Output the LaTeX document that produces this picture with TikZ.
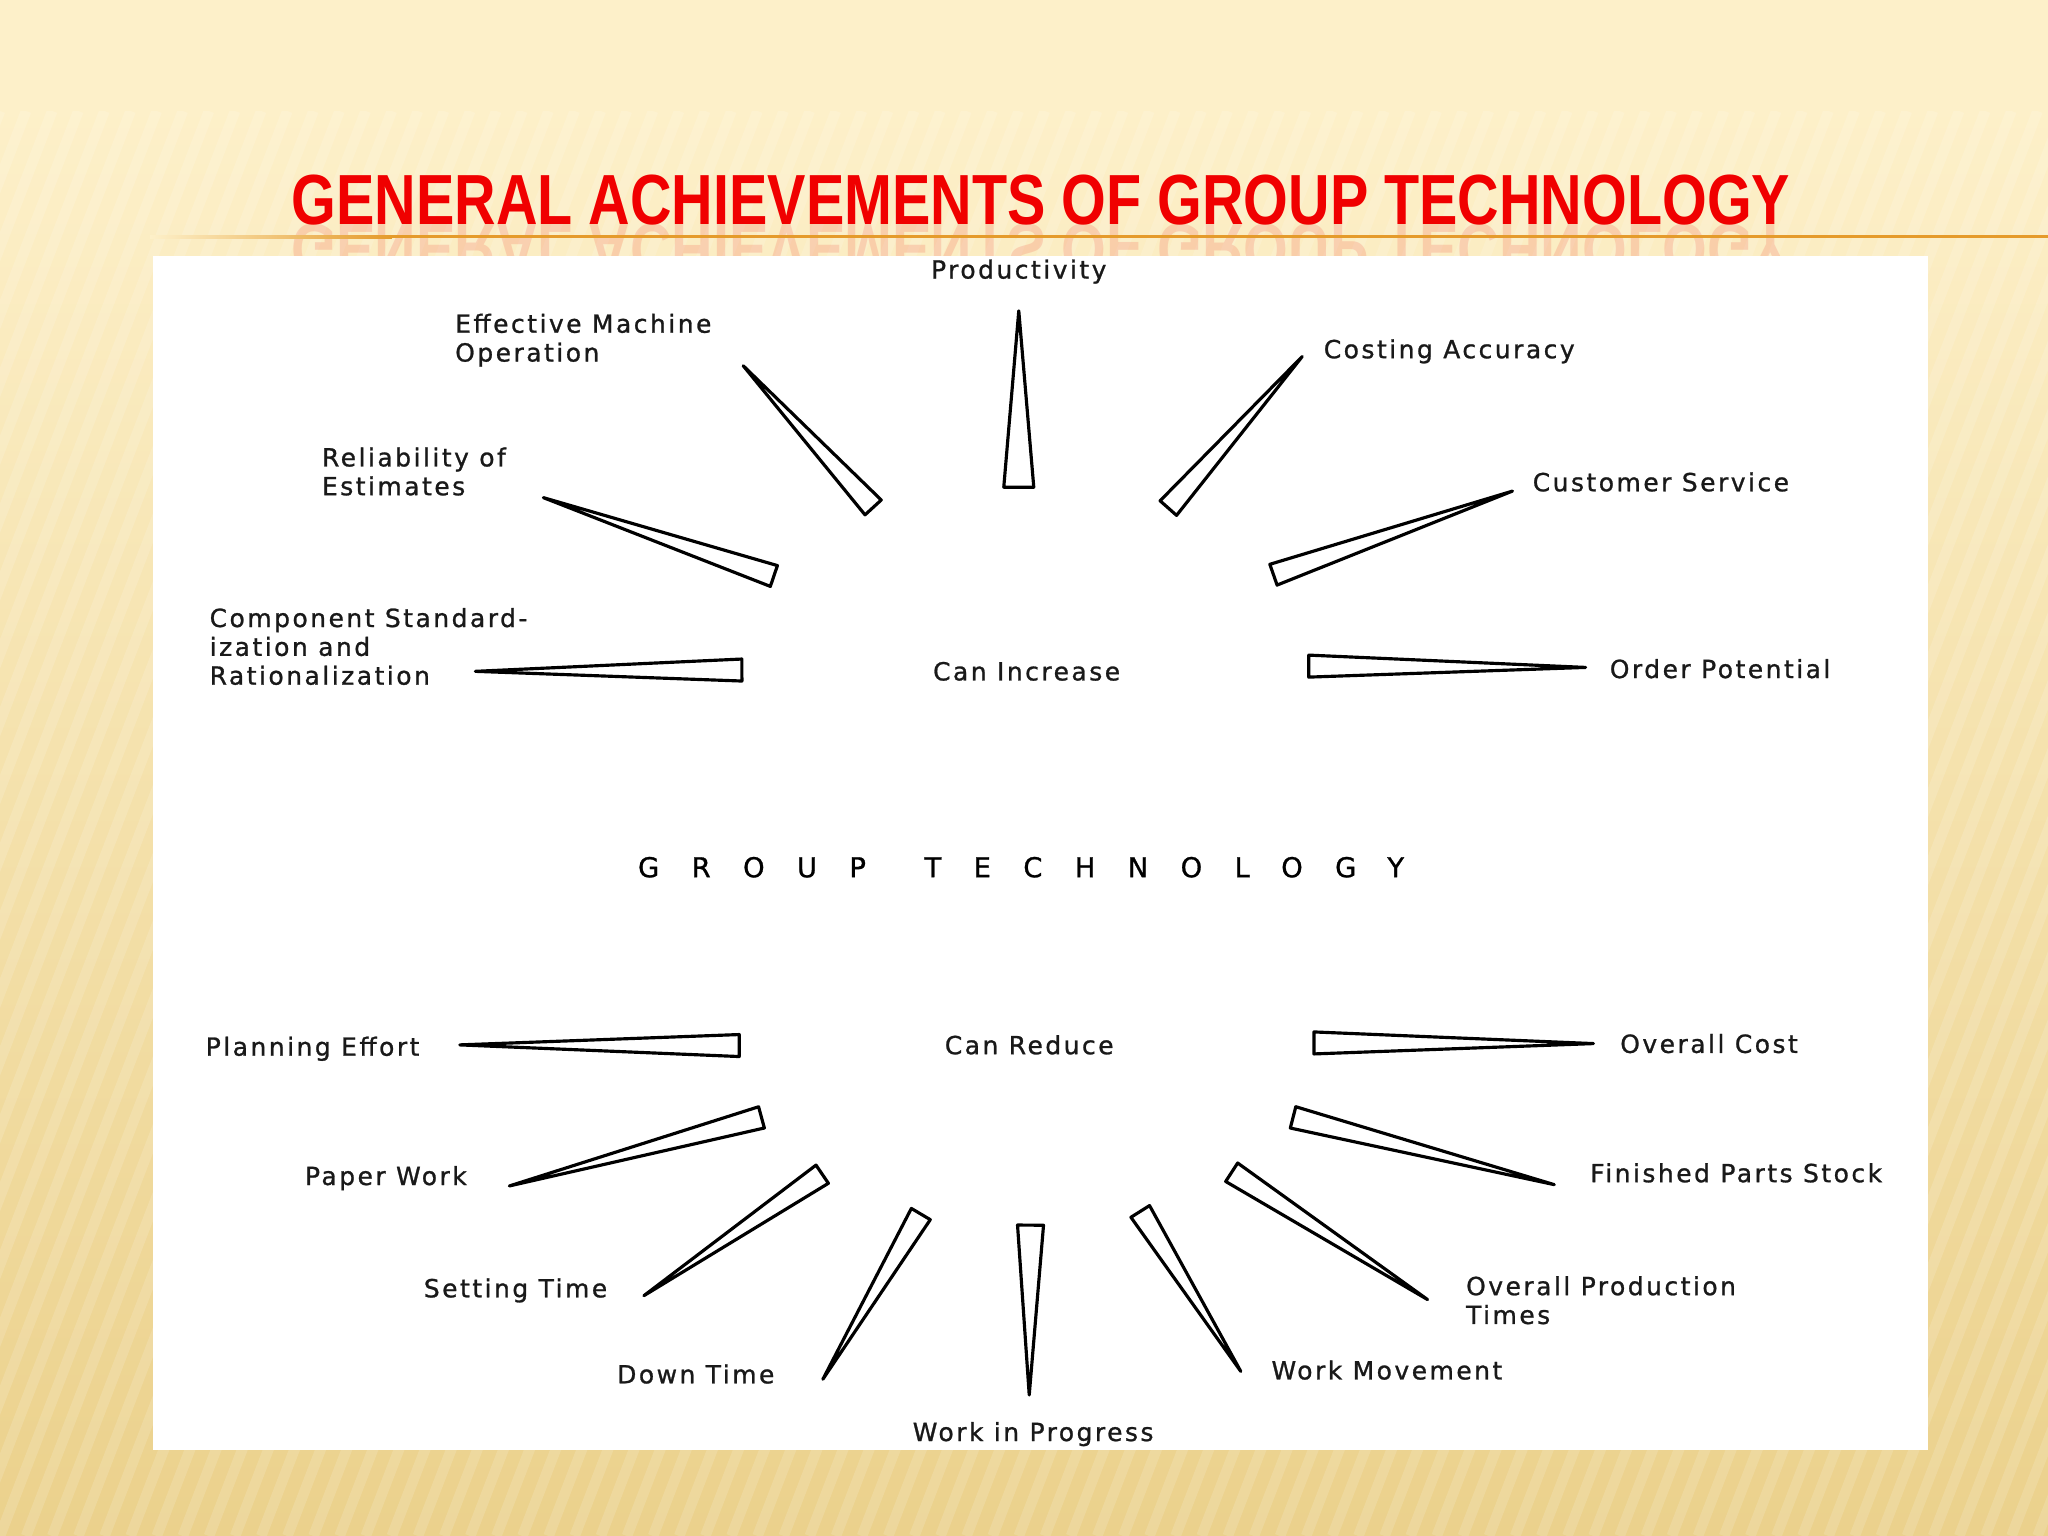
\documentclass[tikz,border=0pt]{standalone}
\usepackage{fontspec}
\usepackage{tikz}
\usetikzlibrary{calc,
                positioning}
\newfontfamily\titlefont{Liberation Sans}[FakeStretch=0.81]
\newfontfamily\lblfont{DejaVu Sans}[LetterSpace=10, FakeBold=1]
\newfontfamily\gtfont{DejaVu Sans}[LetterSpace=118, FakeBold=1]
\definecolor{bgcream}{HTML}{FDF0C9}
\definecolor{bggold}{HTML}{EBD18C}
\definecolor{rulecol}{HTML}{E59B2B}
\definecolor{titlered}{HTML}{F00000}
\tikzset{
        lbl/.style={font=\lblfont\fontsize{7.1}{8.2}\selectfont, inner sep=0pt,
                    align=left, text=black!90},
        lblw/.style={lbl, anchor=west},
        spike/.style={draw=black, fill=white, line width=0.9pt, line join=round},
        headline/.style={text=titlered, anchor=base,
                         font=\titlefont\bfseries\fontsize{20.2}{24}\selectfont},
 }
% wedge from base centre #2 to tip #3, half width #1
\newcommand{\spike}[3][0.11cm]{%
  \draw[spike] ($(#2)!#1!90:(#3)$) -- (#3) -- ($(#2)!#1!-90:(#3)$) -- cycle;}

\begin{document}
\begin{tikzpicture}[x=0.01306cm, y=-0.01306cm]
    \useasboundingbox (0,0) rectangle (1568,1176);
    % slide background
    \fill[bgcream] (0,0) rectangle (1568,1176);
    \shade[top color=bgcream, bottom color=bggold] (0,80) rectangle (1568,1176);
    \begin{scope}
        \clip (0,85) rectangle (1568,1176);
        \foreach \sx in {-420,-400,...,1580}
            \draw[white, opacity=0.14, line width=3pt] (\sx,1176) -- (\sx+420,85);
    \end{scope}
    \begin{scope}[shift={(797,172)}, yscale=-1]
        \node[headline, transform shape, opacity=0.13] (titlerefl) at (0,0)
            {GENERAL ACHIEVEMENTS OF GROUP TECHNOLOGY};
    \end{scope}
    \shade[left color=bgcream, right color=rulecol] (115,180) rectangle (300,182.5);
    \fill[rulecol] (300,180) rectangle (1568,182.5);
    \fill[white] (117,196) rectangle (1476,1110);
    \node[headline] (title) at (797,172) {GENERAL ACHIEVEMENTS OF GROUP TECHNOLOGY};

    % can increase
    \node[lbl] (inc) at (786,514) {Can Increase};
    \node[lbl] (prod) at (780,208) {Productivity};
    \node[lblw] (emo) at (348,260.5) {Effective Machine\\Operation};
    \node[lblw] (cost) at (1013,269) {Costing Accuracy};
    \node[lblw] (rel) at (246,361) {Reliability of\\Estimates};
    \node[lblw] (cust) at (1173,369) {Customer Service};
    \node[lblw] (comp) at (160,495) {Component Standard-\\ization and\\Rationalization};
    \node[lblw] (order) at (1232,512) {Order Potential};

    \node[anchor=west, inner sep=0pt, font=\gtfont\fontsize{7.8}{9}\selectfont]
        (gt) at (488,664) {GROUP\hspace{5pt} TECHNOLOGY};

    % can reduce
    \node[lbl] (red) at (788,800) {Can Reduce};
    \node[lblw] (plan) at (157,803) {Planning Effort};
    \node[lblw] (ocost) at (1240,799) {Overall Cost};
    \node[lblw] (paper) at (233,902) {Paper Work};
    \node[lblw] (fps) at (1217,898) {Finished Parts Stock};
    \node[lblw] (set) at (324,988) {Setting Time};
    \node[lblw] (opt) at (1122,995.5) {Overall Production\\Times};
    \node[lblw] (down) at (472,1052) {Down Time};
    \node[lbl] (wip) at (791,1098) {Work in Progress};
    \node[lblw] (move) at (973,1049) {Work Movement};

    % wedge ends
    \coordinate (bProd) at (780,373);      \coordinate (tProd) at (780,238);
    \coordinate (bEmo) at (668.5,388.5);   \coordinate (tEmo) at (569,280);
    \coordinate (bCost) at (894.5,389);    \coordinate (tCost) at (997,273);
    \coordinate (bRel) at (592.5,441);     \coordinate (tRel) at (416,381);
    \coordinate (bCust) at (975,440);      \coordinate (tCust) at (1158,376);
    \coordinate (bComp) at (568,513);      \coordinate (tComp) at (364,514);
    \coordinate (bOrder) at (1002,510);    \coordinate (tOrder) at (1214,511);
    \coordinate (bPlan) at (566,800.5);    \coordinate (tPlan) at (352,800);
    \coordinate (bOcost) at (1006,798.5);  \coordinate (tOcost) at (1220,799);
    \coordinate (bPaper) at (583,855.5);   \coordinate (tPaper) at (390,908);
    \coordinate (bFps) at (990,855.5);     \coordinate (tFps) at (1190,907);
    \coordinate (bSet) at (629.5,899);     \coordinate (tSet) at (493,992);
    \coordinate (bOpt) at (943,897.5);     \coordinate (tOpt) at (1093,995);
    \coordinate (bDown) at (705,929.5);    \coordinate (tDown) at (630,1056);
    \coordinate (bWip) at (789,938);       \coordinate (tWip) at (788,1068);
    \coordinate (bMove) at (873,927.5);    \coordinate (tMove) at (950,1050);

    \spike[0.15cm]{bProd}{tProd}
    \spike{bEmo}{tEmo}
    \spike{bCost}{tCost}
    \spike{bRel}{tRel}
    \spike{bCust}{tCust}
    \spike{bComp}{tComp}
    \spike{bOrder}{tOrder}
    \spike{bPlan}{tPlan}
    \spike{bOcost}{tOcost}
    \spike{bPaper}{tPaper}
    \spike{bFps}{tFps}
    \spike{bSet}{tSet}
    \spike{bOpt}{tOpt}
    \spike{bDown}{tDown}
    \spike[0.13cm]{bWip}{tWip}
    \spike{bMove}{tMove}
\end{tikzpicture}
\end{document}
